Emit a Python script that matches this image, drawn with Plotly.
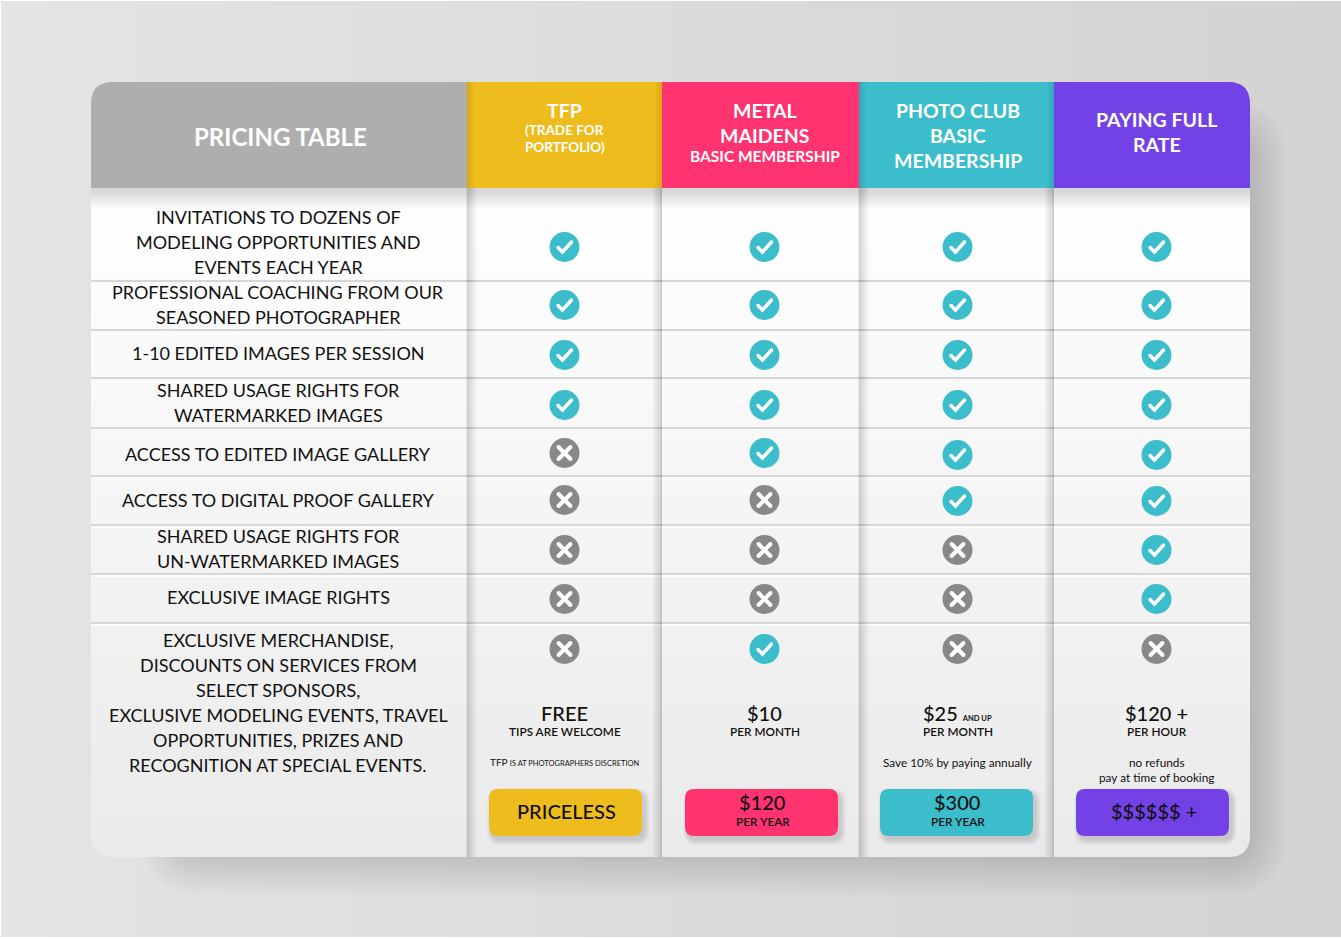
import plotly.graph_objects as go

# chart content
plan_heads = [
    [("TFP", 19.5, 700), ("(TRADE FOR", 13.5, 700), ("PORTFOLIO)", 13.5, 700)],
    [("METAL", 19.5, 700), ("MAIDENS", 19.5, 700), ("BASIC MEMBERSHIP", 15.5, 700)],
    [("PHOTO CLUB", 19.5, 700), ("BASIC", 19.5, 700), ("MEMBERSHIP", 19.5, 700)],
    [("PAYING FULL", 19.5, 700), ("RATE", 19.5, 700)],
]
plan_colors = ["#EEBC1D", "#FF3370", "#3BBDCB", "#7342E6"]

features = [
    ["INVITATIONS TO DOZENS OF", "MODELING OPPORTUNITIES AND", "EVENTS EACH YEAR"],
    ["PROFESSIONAL COACHING FROM OUR", "SEASONED PHOTOGRAPHER"],
    ["1-10 EDITED IMAGES PER SESSION"],
    ["SHARED USAGE RIGHTS FOR", "WATERMARKED IMAGES"],
    ["ACCESS TO EDITED IMAGE GALLERY"],
    ["ACCESS TO DIGITAL PROOF GALLERY"],
    ["SHARED USAGE RIGHTS FOR", "UN-WATERMARKED IMAGES"],
    ["EXCLUSIVE IMAGE RIGHTS"],
    ["EXCLUSIVE MERCHANDISE,", "DISCOUNTS ON SERVICES FROM", "SELECT SPONSORS,",
     "EXCLUSIVE MODELING EVENTS, TRAVEL", "OPPORTUNITIES, PRIZES AND", "RECOGNITION AT SPECIAL EVENTS."],
]

included_tfp = [1, 1, 1, 1, 0, 0, 0, 0, 0]
included_metal = [1, 1, 1, 1, 1, 0, 0, 0, 1]
included_club = [1, 1, 1, 1, 1, 1, 0, 0, 0]
included_full = [1, 1, 1, 1, 1, 1, 1, 1, 0]
included = [included_tfp, included_metal, included_club, included_full]

price_main = ["FREE", "$10", "$25 <span style='font-size:7.5px;font-weight:700'>AND UP</span>", "$120 +"]
price_unit = ["TIPS ARE WELCOME", "PER MONTH", "PER MONTH", "PER HOUR"]
price_note = [
    ["TFP <span style='font-size:7.5px'>IS AT PHOTOGRAPHERS DISCRETION</span>"],
    [],
    ["Save 10% by paying annually"],
    ["no refunds", "pay at time of booking"],
]
button_main = ["PRICELESS", "$120", "$300", "$$$$$$ +"]
button_sub = ["", "PER YEAR", "PER YEAR", ""]

# layout, in picture pixels
W, H = 1341, 939
FONT = "Lato"
col_edges = [467, 662, 859, 1054, 1250]
col_mid = [564.5, 764.5, 957.5, 1156.5]
tbl_l, tbl_t, tbl_b, head_b = 91, 82, 857, 188
radius = 22
row_lines = [281, 330, 378, 428, 476, 525, 574, 623]
label_y = [217, 292, 353, 390, 454, 500, 536, 597, 640]
icon_y_left = [247, 305, 355, 405, 453, 500, 550, 599, 649]
icon_y_right = [247, 305, 355, 405, 455, 501, 550, 599, 649]
button_x = [489, 685, 880, 1076]
button_w, button_y0, button_y1 = 153, 789, 836
head_y = [[110, 130, 147], [110, 135, 156], [110, 135, 160], [119, 144]]

shapes = []
notes = []


def rect(x0, y0, x1, y1, color, opacity=1):
    shapes.append(dict(type="rect", xref="x", yref="y", x0=x0, y0=y0, x1=x1, y1=y1, fillcolor=color,
                       opacity=opacity, line_width=0, layer="below"))


def rounded(x0, y0, x1, y1, r, color, opacity=1, corners="tl tr br bl"):
    c = corners.split()
    rtl, rtr, rbr, rbl = [r if k in c else 0 for k in ("tl", "tr", "br", "bl")]
    path = (f"M{x0 + rtl},{y0} L{x1 - rtr},{y0} Q{x1},{y0} {x1},{y0 + rtr} L{x1},{y1 - rbr} "
            f"Q{x1},{y1} {x1 - rbr},{y1} L{x0 + rbl},{y1} Q{x0},{y1} {x0},{y1 - rbl} L{x0},{y0 + rtl} "
            f"Q{x0},{y0} {x0 + rtl},{y0} Z")
    shapes.append(dict(type="path", xref="x", yref="y", path=path, fillcolor=color, opacity=opacity,
                       line_width=0, layer="below"))


def label(x, y, text, size, color="#111111", weight=400):
    notes.append(dict(x=x, y=y, xref="x", yref="y", text=text, showarrow=False, xanchor="center",
                      yanchor="middle", font=dict(family=FONT, size=size, color=color, weight=weight)))


def grey(v):
    v = int(round(v))
    return f"rgb({v},{v},{v})"


# background, light on the left and darker on the right
steps = 30
for i in range(steps):
    x0 = 1 + i * (W - 1) / steps
    rect(x0, 1, W, H - 2, grey(228 - 17 * i / (steps - 1)))

# soft shadow of the card
for i in range(14):
    g = 30 - i * 4
    rounded(170 - g, 130 - g, 1258 + g, 866 + g, 34 + g, "#000000", 0.011)

# card body, white at the top fading to light grey
steps = 36
body_h = tbl_b - radius - head_b
for i in range(steps):
    y0 = head_b + i * body_h / steps
    rect(tbl_l, y0, col_edges[-1], tbl_b - radius + 1, grey(255 - 20 * i / (steps - 1)))
rounded(tbl_l, tbl_b - radius - 1, col_edges[-1], tbl_b, radius, grey(234), corners="br bl")

# row separators
for y in row_lines:
    rect(tbl_l, y - 1, col_edges[-1], y + 1, "#d6d6d6")
    rect(tbl_l, y + 1, col_edges[-1], y + 3, "#fbfbfb")

# shade under the header
for i in range(20):
    rect(tbl_l, head_b, col_edges[-1], head_b + 22 - i, "#000000", 0.009)

# header cells
rounded(tbl_l, tbl_t, col_edges[0], head_b, radius, "#AEAEAE", corners="tl")
for i, color in enumerate(plan_colors):
    if i < 3:
        rect(col_edges[i], tbl_t, col_edges[i + 1], head_b, color)
    else:
        rounded(col_edges[i], tbl_t, col_edges[i + 1], head_b, radius, color, corners="tr")

# inner shade along both sides of the first and third plan columns
for i in (0, 2):
    left, right = col_edges[i], col_edges[i + 1]
    for k in range(10):
        rect(left, head_b, left + 10 - k, tbl_b, "#000000", 0.016)
        rect(right - 10 + k, head_b, right, tbl_b, "#000000", 0.016)
    for k in range(7):
        rect(left, tbl_t, left + 7 - k, head_b, "#000000", 0.012)
        rect(right - 7 + k, tbl_t, right, head_b, "#000000", 0.012)
for edge in col_edges[:-1]:
    rect(edge - 1, head_b, edge, tbl_b, "#000000", 0.06)

# buttons
for i, color in enumerate(plan_colors):
    x0 = button_x[i]
    for k in range(6):
        g = 5 - k
        rounded(x0 + 3 - g, button_y0 + 4 - g, x0 + button_w + 3 + g, button_y1 + 4 + g, 9 + g, "#000000", 0.025)
    rounded(x0, button_y0, x0 + button_w, button_y1, 9, color)

# header text
label(280, 136, "PRICING TABLE", 24, "#ffffff", 700)
for i, lines in enumerate(plan_heads):
    for (text, size, weight), y in zip(lines, head_y[i]):
        label(col_mid[i], y, text, size, "#ffffff", weight)

# feature labels, 25 px between lines
for lines, y0 in zip(features, label_y):
    for k, text in enumerate(lines):
        label(278, y0 + 25 * k, text, 18)

# prices
for i in range(4):
    label(col_mid[i], 713, price_main[i], 20, "#111111", 500)
    label(col_mid[i], 731, price_unit[i], 11.8, "#111111", 600)
    for k, text in enumerate(price_note[i]):
        size = 10 if i == 0 else 11.8
        label(col_mid[i], 762 + 15 * k, text, size)
    mid = button_x[i] + button_w / 2
    if button_sub[i]:
        label(mid + 1, 802, button_main[i], 20, "#111111", 500)
        label(mid + 1, 821, button_sub[i], 11.8, "#111111", 600)
    else:
        label(mid + 1, 810.5, button_main[i], 20, "#111111", 500)

# icons, from the included lists
yes_x, yes_y, no_x, no_y = [], [], [], []
tick_x, tick_y, cross_x, cross_y = [], [], [], []
for i, flags in enumerate(included):
    ys = icon_y_left if i < 2 else icon_y_right
    for row, flag in enumerate(flags):
        cx, cy = col_mid[i], ys[row]
        if flag:
            yes_x.append(cx)
            yes_y.append(cy)
            tick_x += [cx - 6.5, cx - 2, cx + 7, None]
            tick_y += [cy + 0.5, cy + 5, cy - 5, None]
        else:
            no_x.append(cx)
            no_y.append(cy)
            cross_x += [cx - 6, cx + 6, None, cx - 6, cx + 6, None]
            cross_y += [cy - 6, cy + 6, None, cy + 6, cy - 6, None]

fig = go.Figure()
fig.add_trace(go.Scatter(x=yes_x, y=yes_y, mode="markers", marker=dict(size=30, color="#3BBDCB"), hoverinfo="skip"))
fig.add_trace(go.Scatter(x=no_x, y=no_y, mode="markers", marker=dict(size=30, color="#888888"), hoverinfo="skip"))
fig.add_trace(go.Scatter(x=tick_x, y=tick_y, mode="lines+markers", line=dict(color="#ffffff", width=3.5),
                         marker=dict(size=3.5, color="#ffffff"), hoverinfo="skip"))
fig.add_trace(go.Scatter(x=cross_x, y=cross_y, mode="lines+markers", line=dict(color="#ffffff", width=4),
                         marker=dict(size=4, color="#ffffff"), hoverinfo="skip"))

fig.update_layout(
    width=W, height=H, margin=dict(l=0, r=0, t=0, b=0), showlegend=False,
    paper_bgcolor="#ffffff", plot_bgcolor="#ffffff",
    xaxis=dict(range=[0, W], visible=False, fixedrange=True),
    yaxis=dict(range=[H, 0], visible=False, fixedrange=True),
    shapes=shapes, annotations=notes,
)

fig.write_html("out.html", config=dict(displayModeBar=False),
               post_script="document.body.style.margin='0';document.body.style.overflow='hidden';")
